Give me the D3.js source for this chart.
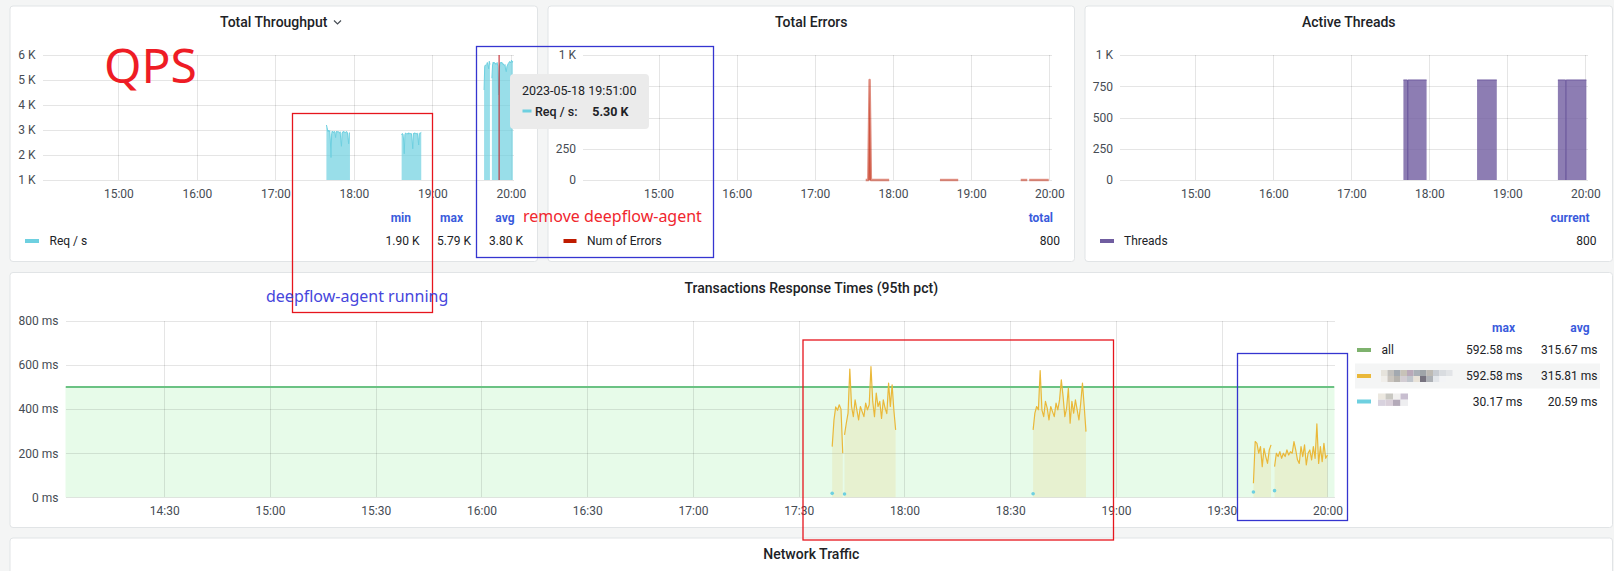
<!DOCTYPE html>
<html>
<head>
<meta charset="utf-8">
<script src="https://cdn.jsdelivr.net/npm/d3@7/dist/d3.min.js"></script>
<style>
html,body{margin:0;padding:0;background:#f4f5f5;}
svg{display:block;}
</style>
</head>
<body>
<svg id="chart" width="1614" height="571"></svg>
<script>
// ================= DATA =================
const DAY = "2023-05-18";
const timeRange = ["14:02:00", "20:02:00"];
const topTimeTicks = ["15:00","16:00","17:00","18:00","19:00","20:00"];
const bottomTimeTicks = ["14:30","15:00","15:30","16:00","16:30","17:00","17:30","18:00","18:30","19:00","19:30","20:00"];
const qpsTicks = [1,2,3,4,5,6];            // K req/s
const countTicks = [0,250,500,750,1000];
const msTicks = [0,200,400,600,800];

// Total Throughput (K req/s), 30 s samples, each block starts at qpsStarts[i]
const qpsStarts = ["17:39:00","18:36:30","19:39:30","19:45:30"];
const qpsBlock1 = [3.20,3.10,2.95,3.00,2.92,2.98,2.60,1.90,2.85,2.96,2.92,2.88,2.95,2.90,2.70,2.93,2.96,2.91,2.94,2.90,2.88,2.93,2.60,2.35,2.88,2.92,2.95,2.90,2.93,2.89,2.92,2.94,2.90,2.70,2.45,2.88,2.90];
const qpsBlock2 = [2.80,2.86,2.84,2.60,2.05,2.82,2.88,2.86,2.84,2.87,2.83,2.89,2.86,2.85,2.88,2.84,2.60,2.25,2.87,2.84,2.89,2.86,2.88,2.85,2.87,2.70,2.40,2.86,2.89,2.88,2.90];
const qpsBlock3a = [4.60,5.55,5.60,5.58,5.62,5.70,5.60,5.45,5.75,5.62];
const qpsBlock3b = [5.07,5.60,5.72,5.65,5.70,5.68,5.62,5.66,5.70,5.55,4.40,5.30,5.62,5.70,5.68,5.72,5.64,5.66,5.60,5.58,5.62,5.40,5.33,5.55,5.60,5.66,5.70,5.74,5.68,5.72,5.79,5.70,5.76];
const qpsLegendHeads = ["min","max","avg"];
const qpsLegendVals = ["1.90 K","5.79 K","3.80 K"];
const tooltipTime = "19:51:00";

// Total Errors, 1 min samples
const errStarts = ["17:39:00","18:36:00","19:38:00","19:44:30"];
const errBlock1 = [0,0,0,800,0,0,0,0,0,0,0,0,0,0,0,0,0,0,0];
const errBlock2 = [0,0,0,0,0,0,0,0,0,0,0,0,0,0,0];
const errBlock3a = [0,0,0,0,0,0];
const errBlock3b = [0,0,0,0,0,0,0,0,0,0,0,0,0,0,0,0];
const errLegendVal = "800";

// Active Threads (null = no data)
const threadTimes  = ["17:40:00","17:43:10","17:43:20","17:43:30","17:57:50","17:58:00","18:36:40","18:51:50","18:52:00","19:38:50","19:44:50","19:45:00","19:45:10","20:00:45"];
const threadValues = [800,800,0,800,800,null,800,800,null,800,800,0,800,800];
const threadLegendVal = "800";

// Transactions Response Times (ms), 30 s samples
const rtStarts = ["17:39:30","17:43:00","18:36:30","19:39:00","19:45:00"];
const rtBlock1a = [230,350,410,395,420,400,200];
const rtBlock1b = [283,336,382,582,412,366,442,397,351,412,389,366,427,397,420,592.58,435,366,473,412,435,358,442,405,380,518,412,510,395,306];
const rtBlock2 = [306,382,412,397,575,397,366,435,405,351,412,389,366,427,397,442,533,458,366,405,495,336,435,382,442,397,351,427,518,412,298];
const rtBlock3a = [64,253,245,200,230,139,222,185,154,215,238];
const rtBlock3b = [139,200,185,207,177,200,185,215,192,207,200,253,215,170,154,230,185,238,147,200,215,170,230,177,333,154,230,162,245,177,192];
const rtDotTimes = ["17:39:30","17:43:00","18:36:30","19:39:00","19:45:00"];
const rtDotValues = [18,15,16,24,30.17];
const rtThreshold = 500;
const rtLegendNames = ["all","",""];
const rtLegendColors = ["#7EB26D","#EAB839","#6ED0E0"];
const rtLegendMax = ["592.58 ms","592.58 ms","30.17 ms"];
const rtLegendAvg = ["315.67 ms","315.81 ms","20.59 ms"];

// ================= HELPERS =================
const svg = d3.select("#chart");
const FONT = "Roboto, 'Noto Sans', sans-serif";
const parseFull = d3.timeParse("%Y-%m-%d %H:%M:%S");
const T = s => parseFull(DAY + " " + (s.length === 5 ? s + ":00" : s));
const DOMAIN = timeRange.map(T);
const fmtHM = d3.timeFormat("%H:%M");
const fmtTip = d3.timeFormat("%Y-%m-%d %H:%M:%S");
let clipN = 0;

function stepSeries(start, stepSec, values) {
  const t0 = +T(start);
  return values.map((v, i) => ({t: new Date(t0 + i * stepSec * 1000), v}));
}

svg.append("rect").attr("width",1614).attr("height",571).attr("fill","#f4f5f5");

function addPanel(x0, y0, x1, y1, title) {
  svg.append("rect").attr("x",x0+0.5).attr("y",y0+0.5).attr("width",x1-x0-1).attr("height",y1-y0-1)
    .attr("rx",3).attr("fill","#fff").attr("stroke","#e1e4e6");
  return svg.append("text").attr("x",(x0+x1)/2).attr("y",y0+16).attr("text-anchor","middle")
    .attr("dominant-baseline","central").attr("font-family",FONT).attr("font-size",14)
    .attr("font-weight",500).attr("fill","#202226").text(title);
}

function styleAxis(a) {
  a.attr("font-size",12).attr("font-family",FONT);
  a.select(".domain").remove();
  a.selectAll(".tick line").attr("stroke","rgba(0,0,0,0.1)").attr("shape-rendering","crispEdges");
  a.selectAll(".tick text").attr("fill","#464c54");
}

function plotFrame(o) {
  const x = d3.scaleTime().domain(DOMAIN).range([o.x0, o.x1]);
  const y = d3.scaleLinear().domain(o.yDomain).range([o.y1, o.y0]);
  const under = svg.append("g");
  const grid = svg.append("g");
  const yAxis = grid.append("g").attr("transform",`translate(${o.x0},0)`)
    .call(d3.axisLeft(y).tickValues(o.yTicks).tickFormat(o.yFmt).tickSize(-(o.x1-o.x0)).tickPadding(7))
    .call(styleAxis);
  // labels hidden behind the hover tooltip in the screenshot
  if (o.hiddenLabels) yAxis.selectAll(".tick text").filter(d => o.hiddenLabels.includes(d)).remove();
  grid.append("g").attr("transform",`translate(0,${o.y1})`)
    .call(d3.axisBottom(x).tickValues(o.xTicks.map(T)).tickFormat(fmtHM).tickSize(-(o.y1-o.y0)).tickPadding(9))
    .call(styleAxis);
  const id = "clip" + (clipN++);
  svg.append("clipPath").attr("id",id).append("rect")
    .attr("x",o.x0).attr("y",o.y0-3).attr("width",o.x1-o.x0).attr("height",o.y1-o.y0+6);
  const over = svg.append("g").attr("clip-path",`url(#${id})`);
  return {x, y, under, over, o};
}

function drawSeries(p, data, color, fillOpacity, lineWidth, lineOpacity) {
  const defined = d => d.v !== null;
  const area = d3.area().defined(defined).x(d => p.x(d.t)).y0(p.y(p.o.yDomain[0])).y1(d => p.y(d.v));
  const line = d3.line().defined(defined).x(d => p.x(d.t)).y(d => p.y(d.v));
  p.over.append("path").datum(data).attr("d",area).attr("fill",color).attr("fill-opacity",fillOpacity);
  p.over.append("path").datum(data).attr("d",line).attr("fill","none").attr("stroke",color)
    .attr("stroke-width",lineWidth).attr("stroke-opacity",lineOpacity).attr("stroke-linejoin","round");
}

function legendText(x, y, txt, opts) {
  return svg.append("text").attr("x",x).attr("y",y).attr("dominant-baseline","central")
    .attr("font-family",FONT).attr("font-size",12)
    .attr("text-anchor",opts.anchor || "start").attr("font-weight",opts.weight || 400)
    .attr("fill",opts.fill || "#202226").text(txt);
}
const HEAD_BLUE = "#3a5bdc";

// ================= PANEL 1: Total Throughput =================
addPanel(9.5, 5.5, 538, 262, "Total Throughput");
svg.append("path").attr("d","M334,20.5 l3.5,3.5 l3.5,-3.5").attr("fill","none").attr("stroke","#464c54").attr("stroke-width",1.2);
const p1 = plotFrame({x0:42.5, x1:513.5, y0:55, y1:180, yDomain:[1,6], yTicks:qpsTicks, yFmt:v => v + " K", xTicks:topTimeTicks});
[qpsBlock1, qpsBlock2, qpsBlock3a, qpsBlock3b].forEach((b, i) => {
  drawSeries(p1, stepSeries(qpsStarts[i], 30, b), "#6ED0E0", 0.7, 1, 1);
});
// crosshair
p1.over.append("line").attr("x1",p1.x(T(tooltipTime))).attr("x2",p1.x(T(tooltipTime)))
  .attr("y1",55).attr("y2",180).attr("stroke","#c0141c").attr("stroke-width",1);
// legend
const p1HeadX = [411, 463, 514.5], p1ValX = [419.5, 471, 523];
qpsLegendHeads.forEach((h, i) => legendText(p1HeadX[i], 218, h, {anchor:"end", weight:700, fill:HEAD_BLUE}));
qpsLegendVals.forEach((v, i) => legendText(p1ValX[i], 241, v, {anchor:"end"}));
svg.append("rect").attr("x",25).attr("y",239).attr("width",14).attr("height",4).attr("fill","#6ED0E0");
legendText(49.5, 241, "Req / s", {});

// ================= PANEL 2: Total Errors =================
addPanel(547.5, 5.5, 1075, 262, "Total Errors");
const p2 = plotFrame({x0:583, x1:1052, y0:55, y1:180, yDomain:[0,1000], yTicks:countTicks, yFmt:v => v >= 1000 ? (v/1000) + " K" : v, xTicks:topTimeTicks, hiddenLabels:[500,750]});
[errBlock1, errBlock2, errBlock3a, errBlock3b].forEach((b, i) => {
  drawSeries(p2, stepSeries(errStarts[i], 60, b), "#bf1b00", 0.5, 2.4, 0.5);
});
legendText(1053, 218, "total", {anchor:"end", weight:700, fill:HEAD_BLUE});
legendText(1060, 241, errLegendVal, {anchor:"end"});
svg.append("rect").attr("x",563.5).attr("y",239).attr("width",13).attr("height",4).attr("fill","#bf1b00");
legendText(587, 241, "Num of Errors", {});

// ================= PANEL 3: Active Threads =================
addPanel(1084.5, 5.5, 1613, 262, "Active Threads");
const p3 = plotFrame({x0:1120, x1:1588, y0:55, y1:180, yDomain:[0,1000], yTicks:countTicks, yFmt:v => v >= 1000 ? (v/1000) + " K" : v, xTicks:topTimeTicks});
drawSeries(p3, threadTimes.map((t, i) => ({t:T(t), v:threadValues[i]})), "#705da0", 0.8, 1, 1);
legendText(1589.5, 218, "current", {anchor:"end", weight:700, fill:HEAD_BLUE});
legendText(1596.5, 241, threadLegendVal, {anchor:"end"});
svg.append("rect").attr("x",1100).attr("y",239).attr("width",14).attr("height",4).attr("fill","#705da0");
legendText(1124, 241, "Threads", {});

// ================= PANEL 4: Transactions Response Times =================
addPanel(9.5, 272, 1613, 528, "Transactions Response Times (95th pct)");
const p4 = plotFrame({x0:65.5, x1:1334.5, y0:321, y1:497.3, yDomain:[0,800], yTicks:msTicks, yFmt:v => v + " ms", xTicks:bottomTimeTicks});
// threshold region
p4.under.append("rect").attr("x",65.5).attr("width",1334.5-65.5)
  .attr("y",p4.y(rtThreshold)).attr("height",p4.y(0)-p4.y(rtThreshold)).attr("fill","#e7fbe9");
p4.over.append("line").attr("x1",65.5).attr("x2",1334.5).attr("y1",p4.y(rtThreshold)).attr("y2",p4.y(rtThreshold))
  .attr("stroke","#6bc283").attr("stroke-width",2);
[rtBlock1a, rtBlock1b, rtBlock2, rtBlock3a, rtBlock3b].forEach((b, i) => {
  drawSeries(p4, stepSeries(rtStarts[i], 30, b), "#EAB839", 0.14, 1.2, 1);
});
p4.over.selectAll("circle.dot").data(rtDotTimes.map((t, i) => ({t:T(t), v:rtDotValues[i]})))
  .join("circle").attr("class","dot").attr("cx",d => p4.x(d.t)).attr("cy",d => p4.y(d.v))
  .attr("r",1.8).attr("fill","#6ED0E0");
// legend table
svg.append("rect").attr("x",1355).attr("y",363.5).attr("width",245).attr("height",25).attr("fill","#f4f5f5");
legendText(1515, 327.5, "max", {anchor:"end", weight:700, fill:HEAD_BLUE});
legendText(1589.5, 327.5, "avg", {anchor:"end", weight:700, fill:HEAD_BLUE});
const rowY = [350, 376, 401.5];
rtLegendNames.forEach((n, i) => {
  svg.append("rect").attr("x",1357).attr("y",rowY[i]-2).attr("width",14).attr("height",4).attr("fill",rtLegendColors[i]);
  if (n) legendText(1381.5, rowY[i], n, {});
  legendText(1522.5, rowY[i], rtLegendMax[i], {anchor:"end"});
  legendText(1597.5, rowY[i], rtLegendAvg[i], {anchor:"end"});
});
// redacted (mosaic-blurred) series names
const mosaicRow2 = ["#e6e3dc","#c2c0bd","#a3a9b0","#c7c2b8","#b9a9b9","#aab0b7","#9fa4a8","#bdbab4","#c8ccd2","#d9dce0","#e2e4e7",
                    "#f0eeea","#cbc6bf","#b6b3ae","#d3cdd3","#c0c5cc","#e8e2d8","#77737f","#adb1b6","#e3e6ea","#f3f4f6"];
const mosaicRow3 = ["#ece8e0","#c9c8c2","#f1f0ef","#c8bed0","#d8d2de","#d9cfd9","#b4aab9","#eeeef0"];
const cell = 6.5;
mosaicRow2.forEach((c, i) => {
  svg.append("rect").attr("x",1381 + (i % 11) * cell).attr("y",370 + Math.floor(i / 11) * 6)
    .attr("width",cell).attr("height",6).attr("fill",c);
});
mosaicRow3.forEach((c, i) => {
  svg.append("rect").attr("x",1378 + (i % 4) * 7.5).attr("y",393.5 + Math.floor(i / 4) * 6.2)
    .attr("width",7.5).attr("height",6.2).attr("fill",c);
});

// ================= PANEL 5: Network Traffic (cut off) =================
addPanel(9.5, 537.5, 1613, 600, "Network Traffic");

// ================= TOOLTIP =================
const tipVal = stepSeries(qpsStarts[3], 30, qpsBlock3b).find(d => +d.t === +T(tooltipTime)).v;
svg.append("rect").attr("x",510).attr("y",74).attr("width",139).attr("height",55).attr("rx",4).attr("fill","#ebebeb");
svg.append("text").attr("x",522).attr("y",90).attr("dominant-baseline","central").attr("font-family",FONT)
  .attr("font-size",12.5).attr("fill","#202226").text(fmtTip(T(tooltipTime)));
svg.append("rect").attr("x",522.5).attr("y",109.5).attr("width",9).attr("height",3).attr("fill","#6ED0E0");
svg.append("text").attr("x",535).attr("y",111).attr("dominant-baseline","central").attr("font-family",FONT)
  .attr("font-size",12.5).attr("font-weight",500).attr("fill","#202226").text("Req / s:");
svg.append("text").attr("x",628.5).attr("y",111).attr("text-anchor","end").attr("dominant-baseline","central").attr("font-family",FONT)
  .attr("font-size",12.5).attr("font-weight",700).attr("fill","#202226").text(d3.format(".2f")(tipVal) + " K");

// ================= ANNOTATIONS =================
const ANN = "'Noto Sans', 'Open Sans', sans-serif";
svg.append("text").attr("x",104).attr("y",82.5).attr("font-family",ANN).attr("font-size",48)
  .attr("fill","#ee1c25").text("QPS");
svg.append("rect").attr("x",292.5).attr("y",113.5).attr("width",140).attr("height",199).attr("fill","none")
  .attr("stroke","#e6151d").attr("stroke-width",1.3);
svg.append("rect").attr("x",476.5).attr("y",46.5).attr("width",237).attr("height",211).attr("fill","none")
  .attr("stroke","#3535d0").attr("stroke-width",1.3);
svg.append("text").attr("x",523).attr("y",216).attr("dominant-baseline","central").attr("font-family",ANN)
  .attr("font-size",16).attr("fill","#f0262e").text("remove deepflow-agent");
svg.append("text").attr("x",266).attr("y",296).attr("dominant-baseline","central").attr("font-family",ANN)
  .attr("font-size",16).attr("fill","#4646dc").text("deepflow-agent running");
svg.append("rect").attr("x",803).attr("y",340).attr("width",310.5).attr("height",200).attr("fill","none")
  .attr("stroke","#e6151d").attr("stroke-width",1.3);
svg.append("rect").attr("x",1237.5).attr("y",353.5).attr("width",110).attr("height",167).attr("fill","none")
  .attr("stroke","#3535d0").attr("stroke-width",1.3);
</script>
</body>
</html>
